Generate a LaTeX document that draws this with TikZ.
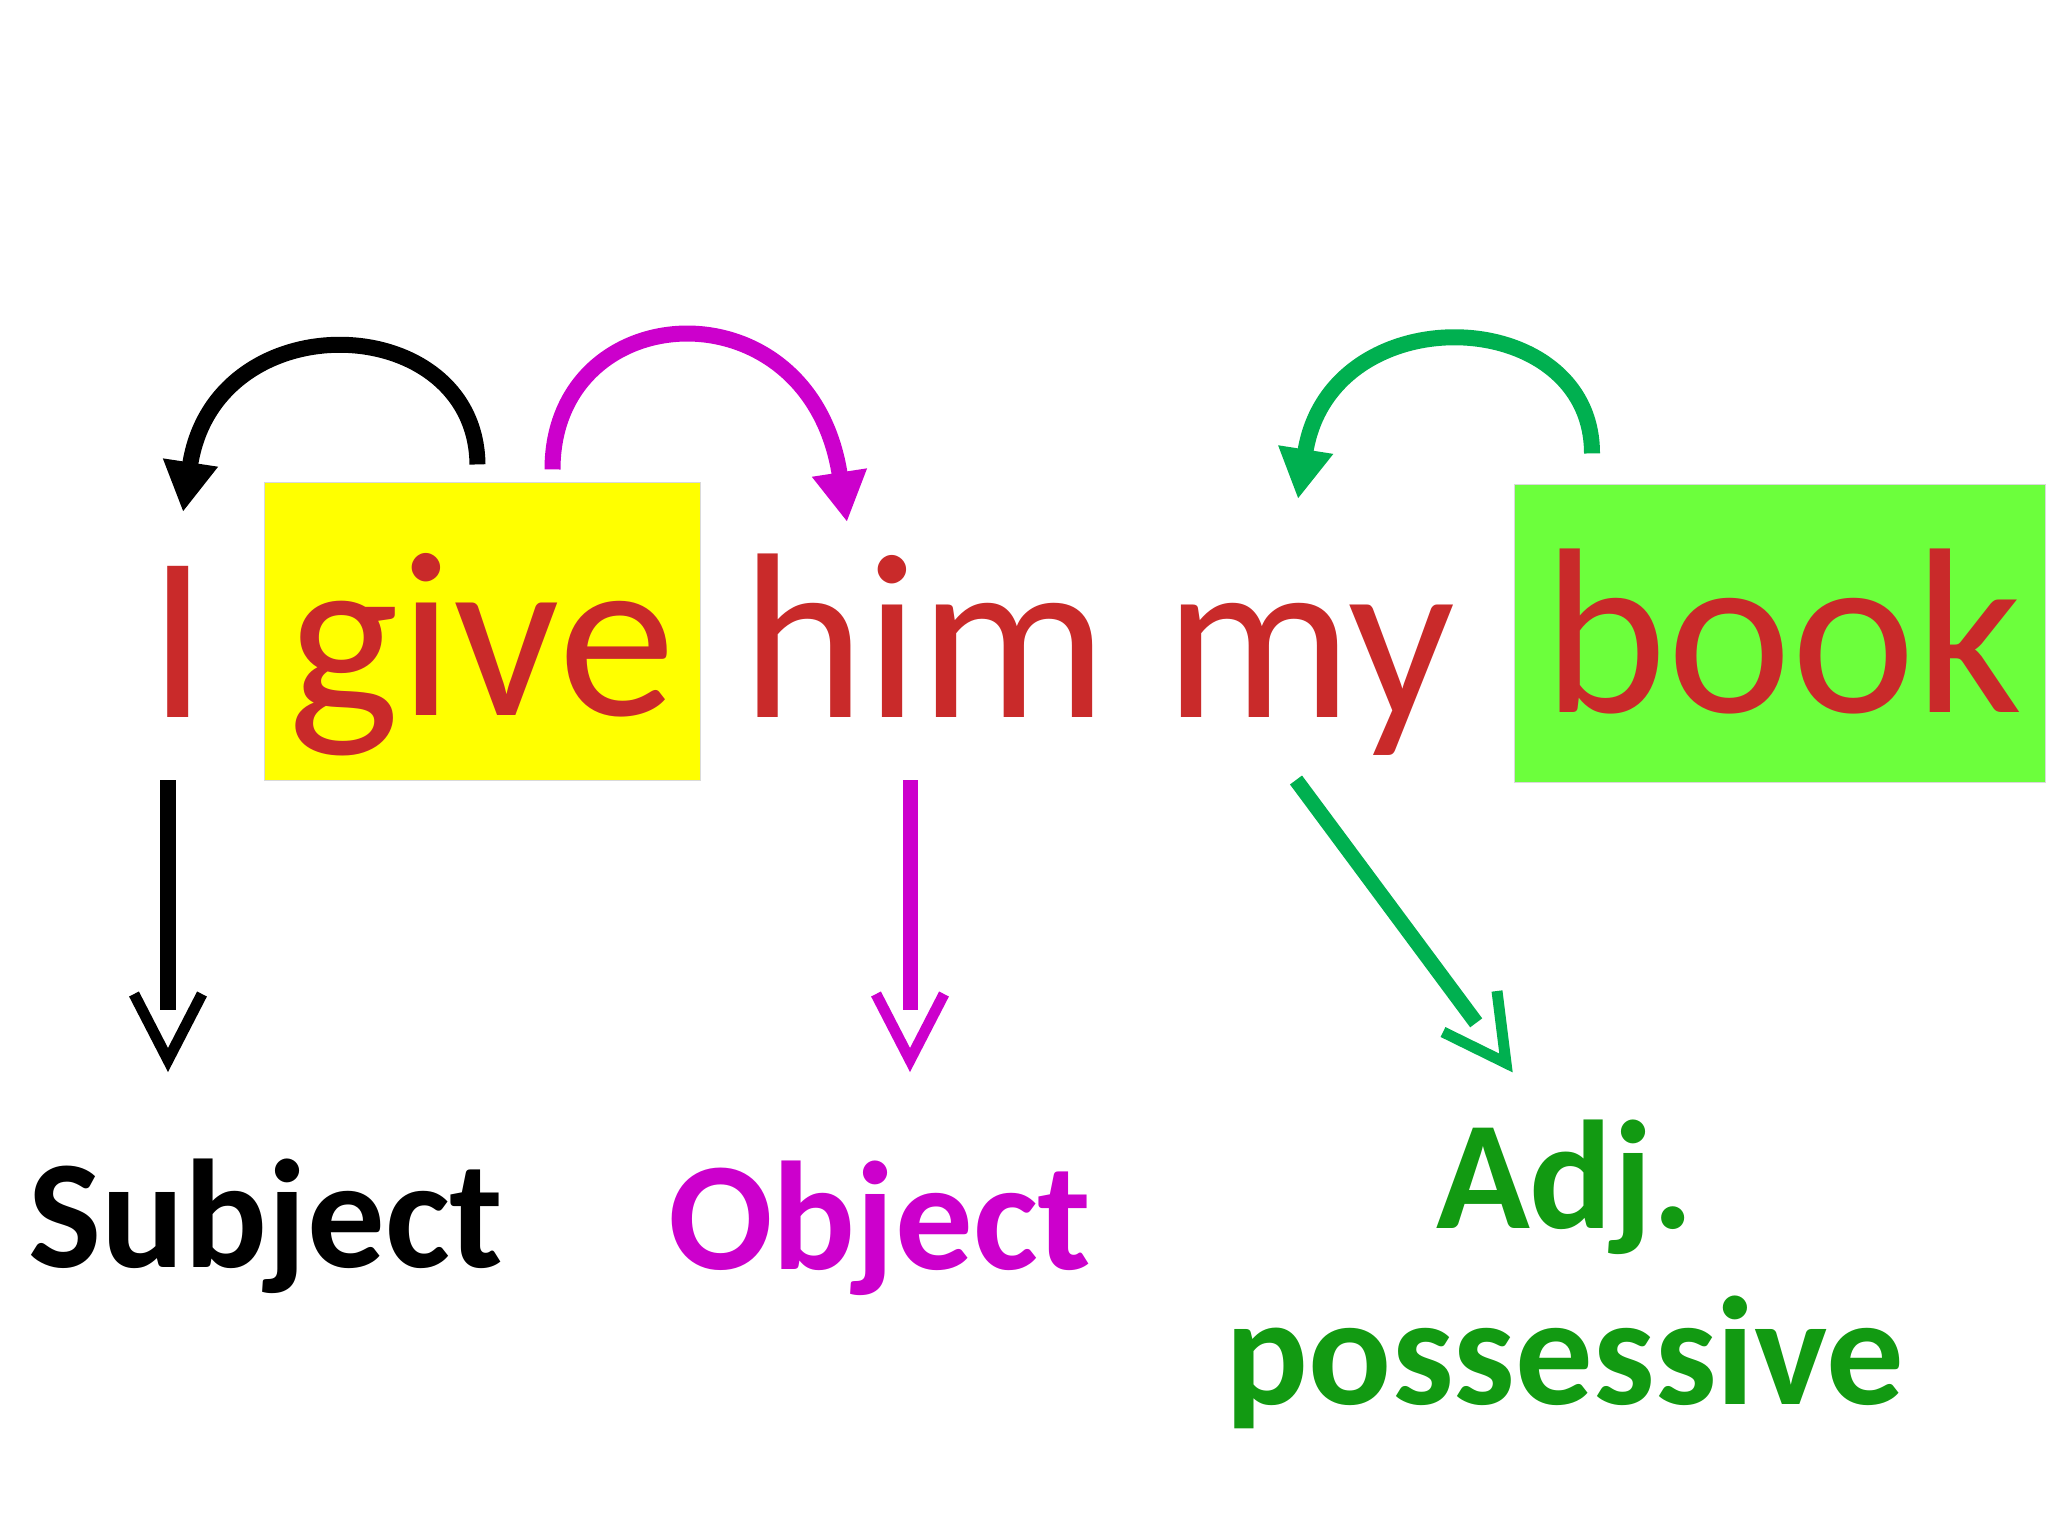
\documentclass[tikz,border=0pt]{standalone}
\usepackage{fontspec}
\setmainfont{Carlito}
\usetikzlibrary{arrows.meta,calc}
\definecolor{wordred}{HTML}{C92A2A}
\definecolor{magentaarr}{HTML}{CC00CC}
\definecolor{greenarr}{HTML}{00B050}
\definecolor{greentext}{HTML}{129A12}
\definecolor{boxyellow}{HTML}{FFFF00}
\definecolor{boxgreen}{HTML}{6CFF3C}
\begin{document}
\begin{tikzpicture}[x=0.01cm,y=-0.01cm,
  wordtext/.style={font=\fontsize{67}{80}\selectfont, text=wordred, anchor=base, inner sep=0},
  labeltext/.style={font=\fontsize{44}{50}\selectfont\bfseries, anchor=base, inner sep=0, align=center},
  hlbox/.style={minimum width=#1, minimum height=2.97cm, inner sep=0, draw=black!15, line width=0.01cm},
  curvarrow/.style={line width=0.16cm, -{Triangle[length=0.5cm,width=0.52cm]}},
  shaft/.style={line width=0.15cm, shorten >=0.5cm},
  vhead/.style={line width=0.11cm, line join=miter, miter limit=10}]
\useasboundingbox (0,0) rectangle (2048,1536);
\fill[white] (0,0) rectangle (2048,1536);
% highlight boxes
\node[hlbox=4.35cm, fill=boxyellow] (givebox) at (482.5,631.5) {};
\node[hlbox=5.30cm, fill=boxgreen] (bookbox) at (1780,633.5) {};
% sentence
\node[wordtext] (I) at (178,717) {I};
\node[wordtext] (give) at (482,715) {give};
\node[wordtext] (him) at (925,717) {him};
\node[wordtext] (my) at (1310,717) {my};
\node[wordtext] (book) at (1783,712) {book};
% labels
\node[labeltext] (subj) at (266,1267) {Subject};
\node[labeltext, text=magentaarr] (obj) at (880,1269) {Object};
\node[labeltext, text=greentext] (adj) at (1565,1404) {Adj.\\possessive};
% curved arrows
\draw[curvarrow, draw=black] ($(givebox.north)+(-5,-18)$) .. controls +(-2,-155) and +(32,-212) .. ($(I.base)+(5,-205)$);
\draw[curvarrow, draw=magentaarr] ($(givebox.north)+(70,-13)$) .. controls +(0,-175) and +(-37,-242) .. ($(him.base)+(-78,-195)$);
\draw[curvarrow, draw=greenarr] ($(bookbox.north)+(-188,-31)$) .. controls +(0,-150) and +(32,-205) .. ($(my.base)+(-12,-218)$);
% straight arrows with open V heads
\coordinate (subjtip) at ($(subj.base)+(-98,-207)$);
\coordinate (objtip) at ($(obj.base)+(30,-209)$);
\coordinate (adjtip) at ($(adj.base)+(-59,-341)$);
\draw[shaft, draw=black] ($(I.base)+(-10,63)$) -- (subjtip);
\draw[vhead, draw=black] ($(subjtip)+(-34,-66)$) -- (subjtip) -- ($(subjtip)+(34,-66)$);
\draw[shaft, draw=magentaarr] ($(him.base)+(-15,63)$) -- (objtip);
\draw[vhead, draw=magentaarr] ($(objtip)+(-34,-66)$) -- (objtip) -- ($(objtip)+(34,-66)$);
\draw[shaft, draw=greenarr] ($(my.base)+(-14,63)$) -- (adjtip);
\draw[vhead, draw=greenarr] ($(adjtip)+(-63,-31)$) -- (adjtip) -- ($(adjtip)+(-9,-72)$);
\end{tikzpicture}
\end{document}
